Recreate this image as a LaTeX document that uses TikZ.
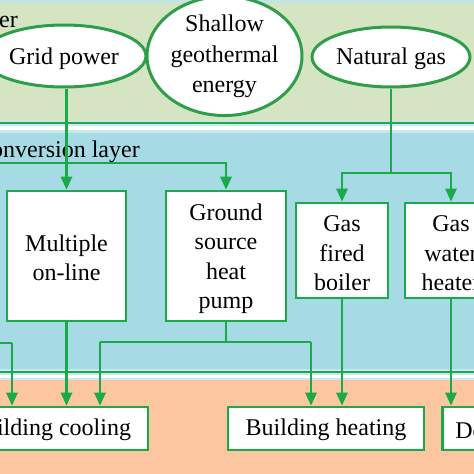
\documentclass[tikz,border=0pt]{standalone}
\usepackage{fontspec}
\setmainfont{Liberation Serif}
\usetikzlibrary{arrows.meta,shapes.geometric}
\definecolor{bandgreen}{HTML}{D5E4C3}
\definecolor{bandblue}{HTML}{A6DAE5}
\definecolor{bandorange}{HTML}{FBC6A0}
\definecolor{stripblue}{HTML}{C8E7EE}
\definecolor{topcyan}{HTML}{BFE6E4}
\definecolor{lnk}{HTML}{1AAA4A}
\definecolor{ellg}{HTML}{2E9E48}
\newcommand\topstrut[1]{\rule{0pt}{#1}}
\tikzset{
  txt/.style={font=\fontsize{24}{29.5}\selectfont, align=center},
  src/.style={txt, ellipse, draw=ellg, line width=3pt, fill=white, inner sep=0pt},
  conv/.style={txt, rectangle, draw=lnk, line width=2.6pt, fill=white, inner sep=0pt},
  load/.style={txt, rectangle, draw=lnk, line width=2.6pt, fill=white, inner sep=0pt, minimum height=43pt},
  link/.style={draw=lnk, line width=2.6pt},
  arr/.style={link, -{Triangle[length=13pt,width=11pt]}},
  lbl/.style={font=\fontsize{24}{29}\selectfont}
}
\begin{document}
\begin{tikzpicture}[x=1pt,y=-1pt]
\useasboundingbox (0,0) rectangle (474,474);
\clip (0,0) rectangle (474,474);
% layer bands
\fill[topcyan] (0,0) rectangle (474,3);
\fill[bandgreen] (0,3) rectangle (474,121);
\fill[stripblue] (0,121) rectangle (474,133);
\fill[white] (0,126) rectangle (474,130);
\draw[lnk, line width=1.8pt] (0,123) -- (474,123);
\fill[bandblue] (0,133) rectangle (474,369);
\fill[stripblue] (0,369) rectangle (474,380);
\fill[white] (0,375) rectangle (474,378);
\draw[lnk, line width=1.8pt] (0,372) -- (474,372);
\fill[bandorange] (0,380) rectangle (474,474);
% layer labels
\node[lbl, anchor=base east, inner sep=0pt] (toplbl) at (18,27) {Energy supply layer};
\node[lbl, anchor=base east, inner sep=0pt] (midlbl) at (140,157) {Energy conversion layer};
% sources
\node[src, minimum width=164pt, minimum height=62pt] (grid) at (64,56) {\topstrut{21.5pt}Grid power};
\node[src, minimum width=155pt, minimum height=102pt, font=\fontsize{24}{30.5}\selectfont] (geo) at (224.5,56) {\topstrut{18pt}Shallow\\geothermal\\energy};
\node[src, minimum width=158pt, minimum height=60pt] (gas) at (391,57) {\topstrut{21pt}Natural gas};
% conversion devices
\node[conv, minimum width=119pt, minimum height=130pt] (multi) at (66.5,256) {\topstrut{20.5pt}Multiple\\on-line};
\node[conv, minimum width=120pt, minimum height=130pt] (gshp) at (226,256) {\topstrut{22.5pt}Ground\\source\\heat\\pump};
\node[conv, minimum width=92pt, minimum height=95pt] (boiler) at (342,250.5) {\topstrut{22pt}Gas\\fired\\boiler};
\node[conv, minimum width=92pt, minimum height=95pt] (heater) at (451,250.5) {\topstrut{22pt}Gas\\water\\heater};
% loads
\node[load, minimum width=196pt] (cool) at (50,428.5) {\topstrut{19.5pt}Building cooling};
\node[load, minimum width=196pt] (heat) at (326,428.5) {\topstrut{19.5pt}Building heating};
\node[load, anchor=west, inner xsep=13pt] (dhw) at (441,428.5) {\topstrut{19.5pt}Domestic hot water};
% source to conversion links
\draw[arr] (multi.north |- grid.south) -- (multi.north);
\coordinate (lfeed) at (-5,163);
\draw[arr] (lfeed) -| (gshp.north);
\coordinate (gsplit) at (391,173);
\draw[link] (gas.south) -- (gsplit);
\draw[arr] (gsplit) -| (boiler.north);
\draw[arr] (gsplit) -| (heater.north);
% conversion to load links
\draw[arr] (multi.south) -- (multi.south |- cool.north);
\coordinate (hj) at (226,342);
\coordinate (hl) at (100,342);
\coordinate (hr) at (311,342);
\draw[link] (gshp.south) -- (hj);
\draw[link] (hl) -- (hr);
\draw[arr] (hl) -- (hl |- cool.north);
\draw[arr] (hr) -- (hr |- heat.north);
\coordinate (lfeed2) at (-5,343);
\coordinate (lc) at (12,343);
\draw[link] (lfeed2) -- (lc);
\draw[arr] (lc) -- (lc |- cool.north);
\draw[arr] (boiler.south) -- (boiler.south |- heat.north);
\draw[arr] (heater.south) -- (heater.south |- dhw.north);
\end{tikzpicture}
\end{document}
